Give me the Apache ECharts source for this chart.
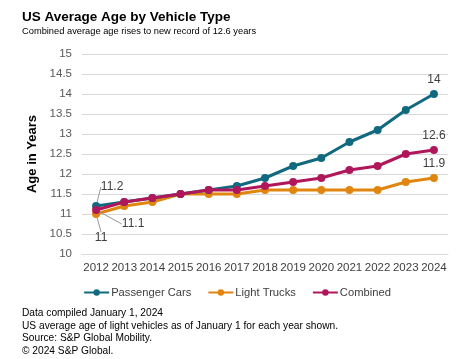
<!DOCTYPE html>
<html><head><meta charset="utf-8">
<script src="https://cdn.jsdelivr.net/npm/echarts@6/dist/echarts.min.js"></script>
<style>html,body{margin:0;padding:0;background:#fff}#c{width:474px;height:359px}</style>
</head><body><div id="c"></div>
<script>
const years = ['2012','2013','2014','2015','2016','2017','2018','2019','2020','2021','2022','2023','2024'];
const passengerCars = [11.2,11.3,11.4,11.5,11.6,11.7,11.9,12.2,12.4,12.8,13.1,13.6,14.0];
const lightTrucks = [11.0,11.2,11.3,11.5,11.5,11.5,11.6,11.6,11.6,11.6,11.6,11.8,11.9];
const combined = [11.1,11.3,11.4,11.5,11.6,11.6,11.7,11.8,11.9,12.1,12.2,12.5,12.6];
const yTicks = ['10','10.5','11','11.5','12','12.5','13','13.5','14','14.5','15'];
const footnotes = ['Data compiled January 1, 2024','US average age of light vehicles as of January 1 for each year shown.','Source: S&P Global Mobility.','© 2024 S&P Global.'];

const colors = ['#10697f','#e0850f','#b0175a'];
const font = 'Liberation Sans, Arial, sans-serif';
// label offsets for annotated points [seriesIndex_dataIndex] -> [dx,dy,leader]
const labelOffsets = {
  '0_0': [16,-19,true], '2_0': [37,14,true], '1_0': [5,24,true],
  '0_12': [0,-14,false], '2_12': [0,-14,false], '1_12': [0,-14,false]
};
function mk(name, data, si){
  return {
    name, type:'line', data: data.map((v,i)=>{
      const o = labelOffsets[si+'_'+i];
      if (o) return {value:v, label:{show:true}, labelLine:{show:o[2]}};
      return v;
    }),
    symbol:'circle', symbolSize:8, color: colors[si],
    lineStyle:{width:3}, z: si===0?3:(si===2?4:2),
    label:{show:false, position:'inside', color:'#404040', fontSize:12, fontFamily:font, formatter: p=>String(p.value)},
    labelLine:{show:true, lineStyle:{color:'#999999', width:1}},
    labelLayout: function(p){
      const o = labelOffsets[si+'_'+p.dataIndex];
      if(!o) return {};
      return {dx:o[0], dy:o[1]};
    },
    emphasis:{disabled:true}
  };
}
const chart = echarts.init(document.getElementById('c'), null, {renderer:'canvas'});
chart.setOption({
  animation:false,
  backgroundColor:'#fff',
  title:[{text:'US Average Age by Vehicle Type', left:17, top:5, textStyle:{fontSize:13.5, fontWeight:'bold', color:'#000', fontFamily:font}},
         {text:'Combined average age rises to new record of 12.6 years', left:17, top:22, textStyle:{fontSize:9.3, fontWeight:'normal', color:'#000', fontFamily:font}}],
  graphic: footnotes.map((t,i)=>({type:'text', left:22, top:308+i*12.7, style:{text:t, fontSize:10.2, fill:'#000', fontFamily:font}})),
  legend:{top:282, left:'center', itemGap:16, itemWidth:25, itemHeight:8,
    data:['Passenger Cars','Light Trucks','Combined'],
    textStyle:{fontSize:11.2, color:'#404040', fontFamily:font, padding:[0,0,0,-3]}},
  grid:{left:82, right:26, top:54, bottom:105, containLabel:false},
  xAxis:{type:'category', data:years, boundaryGap:true,
    axisLine:{lineStyle:{color:'#d9d9d9'}}, axisTick:{show:false},
    axisLabel:{color:'#404040', fontSize:11.5, fontFamily:font, margin:8, interval:0}},
  yAxis:{type:'value', min:10, max:15, interval:0.5, name:'Age in Years', nameLocation:'middle', nameGap:36,
    nameTextStyle:{fontSize:13, fontWeight:'bold', color:'#000', fontFamily:font},
    axisLine:{show:false}, axisTick:{show:false},
    splitLine:{lineStyle:{color:'#d9d9d9'}},
    axisLabel:{color:'#595959', fontSize:11.5, fontFamily:font, margin:10, formatter: v=>{const s=String(v); return yTicks.includes(s)?s:'';}}},
  series:[mk('Passenger Cars', passengerCars, 0), mk('Light Trucks', lightTrucks, 1), mk('Combined', combined, 2)]
});
</script></body></html>
